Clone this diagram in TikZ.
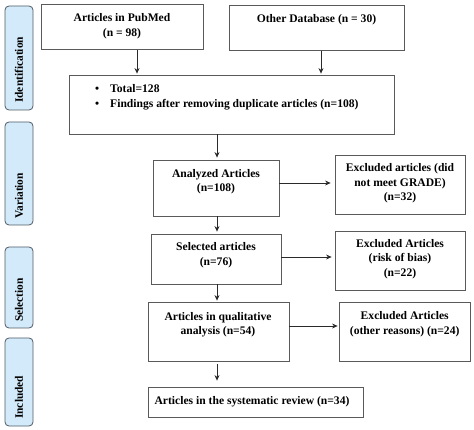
\documentclass[tikz,border=0pt]{standalone}
\usepackage{fontspec}
\setmainfont{Liberation Serif}
\usetikzlibrary{arrows.meta,calc}
\definecolor{boxline}{HTML}{5A5A5A}
\definecolor{arrline}{HTML}{2A2A2A}
\definecolor{sidefill}{HTML}{D3EAFA}
\definecolor{sideline}{HTML}{505A64}
\begin{document}
\begin{tikzpicture}[x=1pt,y=-1pt,
  box/.style={draw=boxline,line width=0.8pt,fill=white,inner sep=0pt},
  txt/.style={font=\fontsize{11.6}{14.5}\selectfont\bfseries,align=center,inner sep=0pt,text=black},
  side/.style={draw=sideline,line width=0.8pt,fill=sidefill,rounded corners=4pt,inner sep=0pt,minimum width=28pt},
  sidetxt/.style={font=\fontsize{11.4}{13}\selectfont\bfseries,rotate=90,anchor=west,inner sep=0pt},
  arr/.style={draw=arrline,line width=0.8pt,-{Stealth[length=5.5pt,width=5pt]}}]
\useasboundingbox (0,0) rectangle (474,430);
% side labels
\node[side,minimum height=104pt] (sid) at (19,58) {};
\node[sidetxt] (sidt) at (19,103) {Identification};
\node[side,minimum height=103pt] (svar) at (19,173.5) {};
\node[sidetxt] (svart) at (19,219) {Variation};
\node[side,minimum height=81pt] (ssel) at (19,287.5) {};
\node[sidetxt] (sselt) at (19,322) {Selection};
\node[side,minimum height=88pt] (sinc) at (19,382) {};
\node[sidetxt] (sinct) at (19,419) {Included};
% boxes
\node[box,minimum width=162pt,minimum height=45pt] (pub) at (122,26.5) {};
\node[txt] (pubt) at (122,26) {Articles in PubMed\\(n = 98)};
\node[box,minimum width=175pt,minimum height=45pt] (odb) at (316.5,27.5) {};
\node[txt] (odbt) at (316.5,20) {Other Database (n = 30)};
\node[box,minimum width=325pt,minimum height=59pt] (tot) at (231.5,104.5) {};
\node[txt,align=left,anchor=west] (tott) at (95,97.5) {\makebox[15pt][l]{•}Total=128\\\makebox[15pt][l]{•}Findings after removing duplicate articles (n=108)};
\node[box,minimum width=126pt,minimum height=56pt] (an) at (216,188) {};
\node[txt] (ant) at (216,181.5) {Analyzed Articles\\(n=108)};
\node[box,minimum width=130pt,minimum height=59pt] (ex1) at (400,184.5) {};
\node[txt] (ex1t) at (400,183.5) {Excluded articles (did\\not meet GRADE)\\(n=32)};
\node[box,minimum width=130pt,minimum height=50pt] (sel) at (216,259) {};
\node[txt] (selt) at (216,255) {Selected articles\\(n=76)};
\node[box,minimum width=130pt,minimum height=59pt] (ex2) at (400,260.5) {};
\node[txt] (ex2t) at (400,259) {Excluded Articles\\(risk of bias)\\(n=22)};
\node[box,minimum width=141pt,minimum height=59pt] (qual) at (218.5,331.5) {};
\node[txt] (qualt) at (218,324.5) {Articles in qualitative\\analysis (n=54)};
\node[box,minimum width=131pt,minimum height=59pt] (ex3) at (404.5,331.5) {};
\node[txt] (ex3t) at (404.7,324) {Excluded Articles\\(other reasons) (n=24)};
\node[box,minimum width=215pt,minimum height=30pt] (fin) at (255.5,402) {};
\node[txt] (fint) at (252,402) {Articles in the systematic review (n=34)};
% arrow columns / rows
\coordinate (c1) at (137,0);
\coordinate (c2) at (321,0);
\coordinate (c3) at (217,0);
\coordinate (r1) at (0,183);
\coordinate (r2) at (0,257);
\coordinate (r3) at (0,326);
% connectors
\draw[arr,shorten <=1pt,shorten >=1pt] (pub.south -| c1) -- (tot.north -| c1);
\draw[arr,shorten <=1pt,shorten >=1pt] (odb.south -| c2) -- (tot.north -| c2);
\draw[arr,shorten >=2pt] (tot.south -| c3) -- (an.north -| c3);
\draw[arr,shorten >=2pt] (an.south -| c3) -- (sel.north -| c3);
\draw[arr,shorten >=1pt] (sel.south -| c3) -- (qual.north -| c3);
\draw[arr,shorten <=3pt,shorten >=6pt] (qual.south -| c3) -- (fin.north -| c3);
\draw[arr,shorten >=4pt] (an.east |- r1) -- (ex1.west |- r1);
\draw[arr,shorten >=3pt] (sel.east |- r2) -- (ex2.west |- r2);
\draw[arr,shorten >=1pt] (qual.east |- r3) -- (ex3.west |- r3);
\end{tikzpicture}
\end{document}
